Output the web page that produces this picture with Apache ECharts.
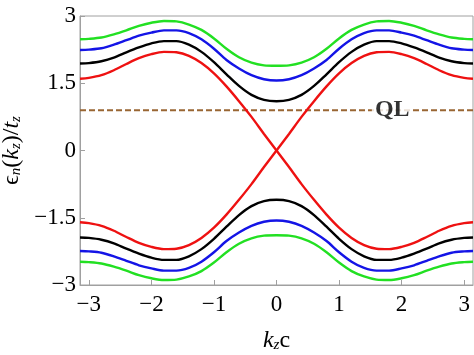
<!DOCTYPE html>
<html>
<head>
<meta charset="utf-8">
<script src="https://cdn.jsdelivr.net/npm/echarts@6/dist/echarts.min.js"></script>
<style>html,body{margin:0;padding:0;background:#fff;}#c{width:474px;height:355px;}</style>
</head>
<body>
<div id="c"></div>
<script>
const kz = [-3.1416, -3.0, -2.8, -2.6, -2.4, -2.2, -2.0, -1.8, -1.6, -1.4, -1.2, -1.0, -0.8, -0.6, -0.4, -0.2, 0, 0.2, 0.4, 0.6, 0.8, 1.0, 1.2, 1.4, 1.6, 1.8, 2.0, 2.2, 2.4, 2.6, 2.8, 3.0, 3.1416];
const redA = [1.60, 1.62, 1.68, 1.79, 1.93, 2.06, 2.15, 2.20, 2.19, 2.11, 1.95, 1.72, 1.43, 1.10, 0.75, 0.37, 0, -0.37, -0.75, -1.10, -1.43, -1.72, -1.95, -2.11, -2.19, -2.20, -2.15, -2.06, -1.93, -1.79, -1.68, -1.62, -1.60];
const redB = [-1.60, -1.62, -1.68, -1.79, -1.93, -2.06, -2.15, -2.20, -2.19, -2.11, -1.95, -1.72, -1.43, -1.10, -0.75, -0.37, 0, 0.37, 0.75, 1.10, 1.43, 1.72, 1.95, 2.11, 2.19, 2.20, 2.15, 2.06, 1.93, 1.79, 1.68, 1.62, 1.60];
const blackUp = [1.94, 1.95, 1.99, 2.07, 2.19, 2.30, 2.39, 2.44, 2.44, 2.36, 2.20, 1.97, 1.70, 1.44, 1.24, 1.13, 1.10, 1.13, 1.24, 1.44, 1.70, 1.97, 2.20, 2.36, 2.44, 2.44, 2.39, 2.30, 2.19, 2.07, 1.99, 1.95, 1.94];
const blackDn = [-1.94, -1.95, -1.99, -2.07, -2.19, -2.30, -2.39, -2.44, -2.44, -2.36, -2.20, -1.97, -1.70, -1.44, -1.24, -1.13, -1.10, -1.13, -1.24, -1.44, -1.70, -1.97, -2.20, -2.36, -2.44, -2.44, -2.39, -2.30, -2.19, -2.07, -1.99, -1.95, -1.94];
const blueUp = [2.24, 2.25, 2.28, 2.36, 2.46, 2.56, 2.63, 2.68, 2.68, 2.62, 2.48, 2.27, 2.02, 1.83, 1.68, 1.59, 1.56, 1.59, 1.68, 1.83, 2.02, 2.27, 2.48, 2.62, 2.68, 2.68, 2.63, 2.56, 2.46, 2.36, 2.28, 2.25, 2.24];
const blueDn = [-2.24, -2.25, -2.28, -2.36, -2.46, -2.56, -2.63, -2.68, -2.68, -2.62, -2.48, -2.27, -2.02, -1.83, -1.68, -1.59, -1.56, -1.59, -1.68, -1.83, -2.02, -2.27, -2.48, -2.62, -2.68, -2.68, -2.63, -2.56, -2.46, -2.36, -2.28, -2.25, -2.24];
const greenUp = [2.48, 2.49, 2.52, 2.59, 2.68, 2.78, 2.85, 2.89, 2.88, 2.81, 2.69, 2.50, 2.27, 2.08, 1.96, 1.90, 1.89, 1.90, 1.96, 2.08, 2.27, 2.50, 2.69, 2.81, 2.88, 2.89, 2.85, 2.78, 2.68, 2.59, 2.52, 2.49, 2.48];
const greenDn = [-2.48, -2.49, -2.52, -2.59, -2.68, -2.78, -2.85, -2.89, -2.88, -2.81, -2.69, -2.50, -2.27, -2.08, -1.96, -1.90, -1.89, -1.90, -1.96, -2.08, -2.27, -2.50, -2.69, -2.81, -2.88, -2.89, -2.85, -2.78, -2.68, -2.59, -2.52, -2.49, -2.48];
const qlLevel = 0.9;
const qlLabelX = 1.85;
const xTicks = [-3, -2, -1, 0, 1, 2, 3];
const yTicks = [-3, -1.5, 0, 1.5, 3];

const font = "'Liberation Serif', 'Times New Roman', Times, serif";
const pairs = ys => kz.map((x, i) => [x, ys[i]]);
const minus = v => String(v).replace('-', '\u2212');
const curve = (ys, color) => ({
  type: 'line', data: pairs(ys), smooth: 0.3, showSymbol: false, symbol: 'none',
  lineStyle: { color: color, width: 2.4 }, animation: false, z: 3
});
const richName = {
  i: { fontFamily: font, fontStyle: 'italic', fontSize: 24, color: '#000' },
  s: { fontFamily: font, fontStyle: 'italic', fontSize: 15, color: '#000', verticalAlign: 'bottom', padding: [9, 0, 0, 0] },
  n: { fontFamily: font, fontSize: 24, color: '#000' }
};

const chart = echarts.init(document.getElementById('c'), null, { renderer: 'canvas' });
chart.setOption({
  animation: false,
  backgroundColor: '#fff',
  grid: { left: 80, right: 1, top: 16, bottom: 70, show: true, borderColor: '#a0a0a0', borderWidth: 1, containLabel: false, outerBoundsMode: 'none' },
  xAxis: {
    type: 'value', min: -Math.PI, max: Math.PI,
    axisLine: { show: true, onZero: false, lineStyle: { color: '#a0a0a0', width: 1 } },
    axisTick: { show: true, inside: true, length: 5, customValues: xTicks, lineStyle: { color: '#a0a0a0' } },
    axisLabel: { customValues: xTicks, formatter: minus, color: '#000', fontSize: 23, fontFamily: font, margin: 8 },
    splitLine: { show: false },
    name: '{i|k}{s|z}{n|c}', nameLocation: 'middle', nameGap: 44,
    nameTextStyle: { rich: richName }
  },
  yAxis: {
    type: 'value', min: -3, max: 3, interval: 1.5,
    axisLine: { show: true, onZero: false, lineStyle: { color: '#a0a0a0', width: 1 } },
    axisTick: { show: true, inside: true, length: 5, lineStyle: { color: '#a0a0a0' } },
    axisLabel: { formatter: minus, color: '#000', fontSize: 23, fontFamily: font, margin: 4 },
    splitLine: { show: false },
    name: '{n|\u03F5}{s|n}{n|(}{i|k}{s|z}{n|)/}{i|t}{s|z}', nameLocation: 'middle', nameGap: 48, nameRotate: 90,
    nameTextStyle: { rich: richName }
  },
  series: [
    {
      type: 'line', data: [[-Math.PI, qlLevel], [Math.PI, qlLevel]], showSymbol: false, symbol: 'none',
      lineStyle: { color: '#996633', width: 2, type: [6, 3] }, animation: false, z: 2
    },
    curve(greenUp, '#22e022'), curve(greenDn, '#22e022'),
    curve(blueUp, '#1414e6'), curve(blueDn, '#1414e6'),
    curve(blackUp, '#000000'), curve(blackDn, '#000000'),
    curve(redA, '#ee1111'), curve(redB, '#ee1111'),
    {
      type: 'scatter', data: [[qlLabelX, qlLevel]], symbolSize: 0, z: 5, silent: true,
      label: {
        show: true, position: 'inside', formatter: 'QL', color: '#000', fontFamily: font,
        fontWeight: 'bold', fontSize: 24, backgroundColor: '#fff', padding: [0, 3, 0, 3]
      }
    }
  ]
});
</script>
</body>
</html>
